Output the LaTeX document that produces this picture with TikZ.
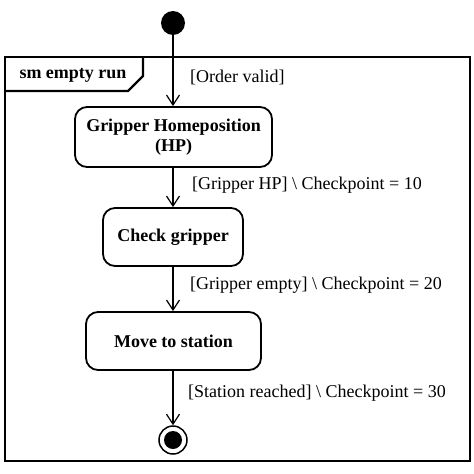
\documentclass[tikz,border=0pt]{standalone}
\usepackage{fontspec}
\setmainfont{Liberation Serif}
\usetikzlibrary{arrows.meta}

\begin{document}
\begin{tikzpicture}[x=1pt,y=-1pt,
        state/.style={draw,line width=1.8pt,rounded corners=12pt,align=center,
            font=\fontsize{18}{20}\selectfont\bfseries,inner sep=0pt},
        trans/.style={line width=1.2pt,-{Straight Barb[length=10pt,width=13pt,line width=1.2pt]}},
        guard/.style={anchor=west,font=\fontsize{18}{20}\selectfont,inner sep=0pt}]
        \useasboundingbox (0,0) rectangle (474,474);

        % Frame with name tab
        \draw[line width=2.4pt] (5,57) rectangle (470,461);
        \draw[line width=2.4pt] (5,91) -- (128,91) -- (143,76) -- (143,57);
        \node[font=\fontsize{18}{20}\selectfont\bfseries,inner sep=0pt] (name) at (73,75) {sm empty run};

        % Initial and final states
        \node[circle,fill=black,minimum size=24pt,inner sep=0pt] (init) at (173,23) {};
        \node[circle,draw,line width=1.5pt,minimum size=28pt,inner sep=0pt] (final) at (173,440) {};
        \fill (final.center) circle (9pt);

        % States
        \node[state,minimum width=197pt,minimum height=60pt] (home) at (173.5,137) {Gripper Homeposition\\(HP)};
        \node[state,minimum width=140pt,minimum height=58pt] (check) at (173,237) {Check gripper};
        \node[state,minimum width=175pt,minimum height=58pt] (move) at (173.5,341) {Move to station};

        % Transitions
        \draw[trans] (init) -- (home.north -| init);
        \draw[trans] (home.south -| init) -- (check.north -| init);
        \draw[trans] (check.south -| init) -- (move.north -| init);
        \draw[trans] (move.south -| init) -- (final.north);

        % Guards
        \node[guard] (g1) at (190,77) {[Order valid]};
        \node[guard] (g2) at (192,185) {[Gripper HP] \textbackslash{} Checkpoint = 10};
        \node[guard] (g3) at (190,285) {[Gripper empty] \textbackslash{} Checkpoint = 20};
        \node[guard] (g4) at (188,393) {[Station reached] \textbackslash{} Checkpoint = 30};
    \end{tikzpicture}
\end{document}
